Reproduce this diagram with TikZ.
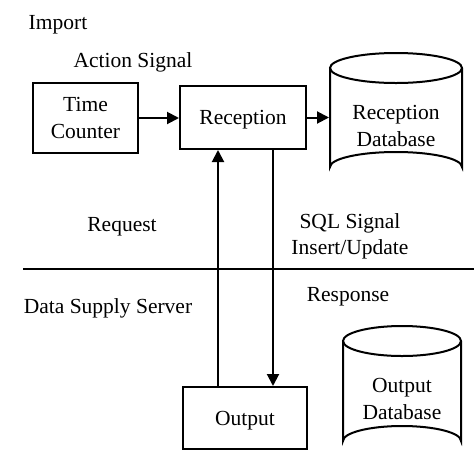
\documentclass[tikz,border=0pt]{standalone}
\usepackage{fontspec}
\setmainfont{Liberation Serif}
\usetikzlibrary{arrows.meta}
\begin{document}
\begin{tikzpicture}[x=1pt,y=-1pt,
  line width=2pt,
  every node/.style={font=\fontsize{21.5}{26.5}\selectfont, inner sep=0pt, text depth=0pt},
  lbl/.style={align=center},
  boxnode/.style={draw, align=center},
  arr/.style={-{Triangle[length=12pt,width=12pt]}}]
\useasboundingbox (0,0) rectangle (474,456);
% boxes
\node[boxnode, minimum width=105pt, minimum height=70pt] (tc) at (85.5,118) {Time\\Counter};
\node[boxnode, minimum width=126pt, minimum height=63pt] (rec) at (243,117.5) {Reception};
\node[boxnode, minimum width=124pt, minimum height=62pt] (out) at (245,418) {Output};
% reception database cylinder
\draw (396,68) ellipse [x radius=66, y radius=15];
\draw (330,68) -- (330,167) arc [start angle=180, end angle=360, x radius=66, y radius=15] -- (462,68);
\node[minimum width=132pt, align=center] (rdb) at (396,126) {Reception\\Database};
% output database cylinder
\draw (402,341) ellipse [x radius=59, y radius=15];
\draw (343,341) -- (343,441) arc [start angle=180, end angle=360, x radius=59, y radius=15] -- (461,341);
\node[minimum width=118pt, align=center] (odb) at (402,399) {Output\\Database};
% labels
\node[lbl] (imp) at (58,22) {Import};
\node[lbl] (act) at (133,60) {Action Signal};
\node[lbl] (req) at (122,224) {Request};
\node[lbl] (sql) at (350,234) {SQL Signal\\Insert/Update};
\node[lbl] (resp) at (348,294) {Response};
\node[lbl] (dss) at (108,306) {Data Supply Server};
% separator line
\coordinate (sepL) at (23,269);
\coordinate (sepR) at (474,269);
\draw (sepL) -- (sepR);
% connectors
\coordinate (upx) at (218,0);
\coordinate (dnx) at (273,0);
\draw[arr] (tc.east) -- (tc.east -| rec.west);
\draw[arr] (rec.east) -- (rec.east -| rdb.west);
\draw[arr] (out.north -| upx) -- (rec.south -| upx);
\draw[arr] (rec.south -| dnx) -- (out.north -| dnx);
\end{tikzpicture}
\end{document}
